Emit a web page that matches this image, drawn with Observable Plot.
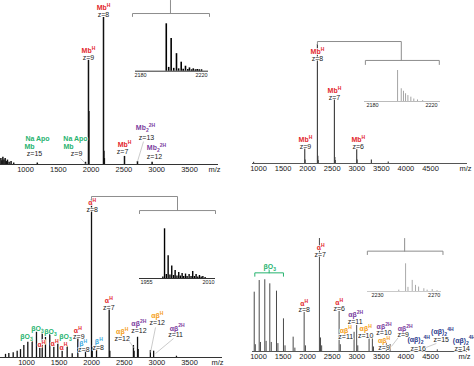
<!DOCTYPE html>
<html><head><meta charset="utf-8">
<script src="https://cdn.jsdelivr.net/npm/d3@7"></script>
<script src="https://cdn.jsdelivr.net/npm/@observablehq/plot@0.6"></script>
<style>
body{margin:0;background:#fff;}
#wrap{position:relative;width:474px;height:366px;overflow:hidden;background:#fff;}
#wrap svg{position:absolute;overflow:visible;}
</style></head><body><div id="wrap"></div>
<script>
// ================= DATA =================
const ticksAC = [1000,1500,2000,2500,3000,3500];
const ticksBD = [1000,1500,2000,2500,3000,3500,4000,4500];
const ticksInsetA = [2180,2220];
const ticksInsetB = [2180,2220];
const ticksInsetC = [1955,2010];
const ticksInsetD = [2230,2270];
const axisTitle = "m/z";
const axisTitlePos = {A: 3881, B: 5212, C: 3929, D: 5192};

// peaks: [m/z, relative intensity]
const peaksA = [[625,4],[640,2.5],[655,5],[672,3],[690,4],[708,2],[725,3],[750,1.5],[780,2],[820,1],[1180,1],[1915,1.5],[1960,71],[1966,36],[2189,100],[2195,9],[2202,4],[2509,5.5],[2707,2],[2930,1.5]];
const peaksB = [[900,1],[1941,12.6],[1948,3],[2199,100],[2207,6],[2215,2.5],[2545,55],[2553,5],[2562,2.5],[2998,12],[3006,3],[3297,3],[3640,1.2]];
const peaksC = [[678,2],[729,2.5],[796,3],[857,4],[908,5],[959,7.6],[1020,9.7],[1087,12.8],[1153,16],[1204,6],[1241,18],[1291,12.8],[1357,16],[1419,9.7],[1480,11.4],[1547,5.5],[1624,7.6],[1701,2.3],[1787,12.8],[1905,5],[1997,100],[2008,6],[2074,5.7],[2268,32.5],[2278,4],[2640,7.6],[2650,4],[2703,12.8],[2713,5],[2900,4.4],[2950,4],[3300,0.8]];
const peaksD = [[913,52.5],[935,6],[1014,62.8],[1040,8],[1128,63.5],[1155,9],[1230,59.9],[1260,8],[1366,53.4],[1395,7],[1508,28.9],[1540,5],[1705,12.7],[1740,3],[1929,34.5],[1955,5],[2240,100],[2262,12],[2285,5],[2640,35.4],[2665,6],[2945,17],[2998,23],[3020,5],[3250,12.7],[3317,16],[3340,4],[3602,8.2],[3677,6.2],[4165,2],[4638,1.5],[5106,1]];

const insetPeaksA = [[2196.9,1],[2198.5,0.08],[2200.1,0.69],[2201.8,0.06],[2203.6,0.37],[2205,0.05],[2206.7,0.19],[2208,0.04],[2209.5,0.105],[2211,0.035],[2212.1,0.07],[2213.5,0.03],[2214.6,0.05],[2216,0.03],[2217.2,0.036],[2218.5,0.03],[2220,0.03]];
const insetPeaksB = [[2197,1],[2199.5,0.41],[2201,0.33],[2202.4,0.25],[2204,0.19],[2206,0.14],[2208,0.08],[2210.5,0.05],[2214,0.03]];
const insetPeaksC = [[1969.5,0.03],[1971,1],[1972.6,0.08],[1974.2,0.46],[1975.8,0.07],[1977.4,0.25],[1979,0.06],[1980.4,0.16],[1982,0.05],[1983.6,0.12],[1985,0.05],[1986.6,0.1],[1988,0.04],[1989.6,0.09],[1991,0.04],[1992.8,0.08],[1994.5,0.04],[1996,0.14],[1997.5,0.04],[1999,0.08],[2000.5,0.03],[2002,0.06],[2003.5,0.03],[2005,0.04],[2007,0.02]];
const insetPeaksD = [[2245,0.05],[2249.8,1],[2251.5,0.15],[2254.5,0.4],[2256.8,0.22],[2259,0.16],[2262.7,0.1],[2265,0.05],[2268.6,0.07],[2272,0.03]];

// labels: [m/z, intensity, text, colour key]
const labelsA = [[2189,106.8,"Mb^{H}","r"],[2189,102,"z=8","k"],[1960,77.5,"Mb^{H}","r"],[1960,72.8,"z=9","k"],
  [1183,17.7,"Na Apo","g"],[1061,12.2,"Mb","g"],[1137,7.5,"z=15","k"],
  [1762,17.7,"Na Apo","g"],[1656,12.2,"Mb","g"],[1778,7.5,"z=9","k"],
  [2509,13.6,"Mb^{H}","r"],[2479,8.8,"z=7","k"],
  [2829,24.8,"Mb_{2}^{2H}","p"],[2845,18.5,"z=13","k"],[2997,11.2,"Mb_{2}^{2H}","p"],[2967,5,"z=12","k"]];
const labelsB = [[2199,94.1,"Mb^{H}","r"],[2199,88.2,"z=8","k"],[2545,61.3,"Mb^{H}","r"],[2545,55.4,"z=7","k"],
  [1955,20.2,"Mb^{H}","r"],[1955,14.3,"z=9","k"],[3030,20.2,"Mb^{H}","r"],[3030,14.3,"z=6","k"]];
const labelsC = [[2008,97.8,"α^{H}","r"],[2008,93.7,"z=8","k"],[2262,35.8,"α^{H}","r"],[2262,31.6,"z=7","k"],
  [1787,17.1,"α^{H}","r"],[1802,13,"z=9","k"],[1870,8.7,"β^{H}","b"],[1879,5,"z=8","k"],
  [2109,10.1,"β^{H}","b"],[2100,6.3,"z=8","k"],[2468,16.2,"αβ^{H}","o"],[2468,12.1,"z=12","k"],
  [2723,21.2,"αβ^{2H}","p"],[2723,17.1,"z=12","k"],[3005,26.3,"αβ^{H}","o"],[3005,22.2,"z=12","k"],
  [3312,18.4,"αβ^{2H}","p"],[3286,14.2,"z=11","k"],
  [1000,13.3,"βO_{3}","g"],[1169,18.4,"βO_{3}","g"],[1368,16.5,"βO_{3}","g"],[1598,12.9,"βO_{3}","g"],
  [1230,8.2,"α^{H}","r"],[1430,8.8,"α^{H}","r"],[1567,6.4,"α^{H}","r"]];
const labelsD = [[1230,74.6,"βO_{3}","g"],[1929,42.2,"α^{H}","r"],[1929,37,"z=8","k"],[2267,91.4,"α^{H}","r"],[2254,85.6,"z=7","k"],
  [2641,43.3,"α^{H}","r"],[2641,37.6,"z=6","k"],[2978,32.2,"αβ^{2H}","p"],[2966,26.7,"z=11","k"],
  [2775,18.8,"αβ^{H}","o"],[2775,13.1,"z=11","k"],[3181,19.9,"αβ^{H}","o"],[3181,14.2,"z=10","k"],
  [3555,22.1,"αβ^{2H}","p"],[3555,16.4,"z=10","k"],[3555,9.3,"αβ^{H}","o"],[3555,3.5,"z=9","k"],
  [3985,20.2,"αβ^{2H}","p"],[3945,14.6,"z=9","k"],[4258,10.4,"(αβ)_{2}^{4H}","n"],[4250,2.6,"z=16","k"],
  [4741,17.6,"(αβ)_{2}^{4H}","n"],[4720,10.2,"z=15","k"],[5182,9.8,"(αβ)_{2}^{4H}","n"],[5147,2.2,"z=14","k"]];

// leader lines: [m/z1, y1, m/z2, y2]
const leadersA = [[1838,4.1,1915,0.7],[2799,15.6,2707,2]];
const leadersC = [[2565,10.8,2657,5.7],[2979,19,2902,3.2],[3255,12,2979,2.5]];
const leadersD = [[3846,12.4,3704,4.4],[4619,7.1,4253,0.9]];

// zoom brackets: polylines of [m/z, intensity]
const bracketsA = [[[3210,111.6],[3210,102.7]],[[2631,100.7],[2631,102.7],[3805,102.7],[3805,100.7]]];
const bracketsB = [[[2199,100],[2199,102.5],[3906,102.5],[3906,86.6]],[[3175,83.2],[3175,86.6],[4679,86.6],[4679,83.2]]];
const bracketsC = [[[1997,100],[1997,101.9],[3316,101.9],[3316,93]],[[2733,91.1],[2733,93],[3899,93],[3899,91.1]]];
const bracketsD = [[[3974,100],[3974,88.8]],[[3215,85.8],[3215,88.8],[4754,88.8],[4754,85.8]]];
const bracketsDGreen = [[[925,66.6],[925,69.6],[1508,69.6],[1508,66.6]],[[1217,69.6],[1217,72.8]]];

// ================= STYLE =================
const COLORS = {r:"#e3262b", g:"#27b36f", p:"#7b3d9e", o:"#f5a020", b:"#3eaadf", n:"#2d3d8e", k:"#1a1a1a"};
const FONT = "'Liberation Sans', Arial, sans-serif";
const wrap = document.getElementById("wrap");

function domainFrom(cal, frame) {
  const [[v0,p0],[v1,p1]] = cal;
  const s = (p1-p0)/(v1-v0);
  return [v0 - (p0-frame[0])/s, v0 + (frame[1]-p0)/s];
}

function richText(svg) {
  svg.querySelectorAll("text").forEach(t => {
    const s = t.textContent;
    if (!/[\^_]\{/.test(s)) return;
    while (t.firstChild) t.removeChild(t.firstChild);
    const re = /([\^_])\{([^}]*)\}|([^\^_]+)/g;
    let m, shift = 0;
    while ((m = re.exec(s))) {
      const ts = document.createElementNS("http://www.w3.org/2000/svg","tspan");
      let target, txt, size = null;
      if (m[3] !== undefined) { txt = m[3]; target = 0; }
      else { txt = m[2]; target = m[1] === "^" ? -3.2 : 2; size = "5px"; }
      ts.setAttribute("dy", target - shift); shift = target;
      if (size) ts.setAttribute("font-size", size);
      ts.textContent = txt;
      t.appendChild(ts);
    }
  });
}

function draw(cfg) {
  const {box, cal, frame, base, top, ymax, ticks, title, peaks, color, sw, axis, fs,
         labels = [], leaders = [], brackets = [], greenBrackets = []} = cfg;
  const [left, topPx, width, height] = box;
  const domain = domainFrom(cal, frame);
  const tickVals = title != null ? [...ticks, title] : ticks;
  const marks = [
    Plot.ruleY([0], {stroke: axis, strokeWidth: cfg.axisW || 1}),
    Plot.ruleX(peaks, {x: d => d[0], y1: 0, y2: d => d[1], stroke: color, strokeWidth: sw}),
  ];
  brackets.forEach(b => marks.push(Plot.line(b, {x: d => d[0], y: d => d[1], stroke: "#8d8d8d", strokeWidth: 1})));
  greenBrackets.forEach(b => marks.push(Plot.line(b, {x: d => d[0], y: d => d[1], stroke: COLORS.g, strokeWidth: 1})));
  if (leaders.length) marks.push(Plot.link(leaders, {x1: d => d[0], y1: d => d[1], x2: d => d[2], y2: d => d[3], stroke: "#b5b5b5", strokeWidth: 0.7}));
  const names = labels.filter(d => d[3] !== "k"), zs = labels.filter(d => d[3] === "k");
  if (names.length) marks.push(Plot.text(names, {x: d => d[0], y: d => d[1], text: d => d[2], fill: d => COLORS[d[3]],
      fontSize: 7, fontWeight: "bold", stroke: "white", strokeWidth: 1.5, lineAnchor: "middle"}));
  if (zs.length) marks.push(Plot.text(zs, {x: d => d[0], y: d => d[1], text: d => d[2], fill: COLORS.k,
      fontSize: 7, stroke: "white", strokeWidth: 1.5, lineAnchor: "middle"}));
  const svg = Plot.plot({
    width, height,
    marginLeft: frame[0], marginRight: width - frame[1], marginTop: top, marginBottom: height - base,
    x: {domain, ticks: tickVals, tickSize: 0, tickPadding: 2, label: null,
        tickFormat: d => d === title ? axisTitle : String(d)},
    y: {domain: [0, ymax], axis: null},
    style: {fontSize: fs + "px", fontFamily: FONT, color: "#222", background: "transparent", overflow: "visible"},
    marks
  });
  svg.style.left = left + "px";
  svg.style.top = topPx + "px";
  svg.style.maxWidth = "none";
  richText(svg);
  wrap.appendChild(svg);
}

// main panels
draw({box:[0,0,237,185], cal:[[1000,25],[3500,189]], frame:[0,218], base:164, top:17, ymax:100, ticks:ticksAC, title:axisTitlePos.A,
  peaks:peaksA, color:"#111", sw:1.5, axis:"#333", fs:7.5, labels:labelsA, leaders:leadersA, brackets:bracketsA});
draw({box:[237,0,237,185], cal:[[1000,21],[4500,193]], frame:[15,230], base:163, top:44, ymax:100, ticks:ticksBD, title:axisTitlePos.B,
  peaks:peaksB, color:"#444", sw:1.2, axis:"#555", fs:7.5, labels:labelsB, brackets:bracketsB});
draw({box:[0,185,237,181], cal:[[1000,26],[3500,189]], frame:[0,222], base:172, top:14, ymax:100, ticks:ticksAC, title:axisTitlePos.C,
  peaks:peaksC, color:"#111", sw:1.3, axis:"#333", fs:7.5, labels:labelsC, leaders:leadersC, brackets:bracketsC});
draw({box:[237,185,237,181], cal:[[1000,21],[4500,193]], frame:[15,230], base:166, top:53, ymax:100, ticks:ticksBD, title:axisTitlePos.D,
  peaks:peaksD, color:"#4a4a4a", sw:1, axis:"#555", fs:7.5, labels:labelsD, leaders:leadersD, brackets:bracketsD, greenBrackets:bracketsDGreen});

// insets
draw({box:[128,18,90,64], cal:[[2180,12],[2220,73]], frame:[7,80], base:52.7, top:5.3, ymax:1, ticks:ticksInsetA,
  peaks:insetPeaksA, color:"#000", sw:1.6, axis:"#333", fs:5.5});
draw({box:[355,62,95,50], cal:[[2180,17],[2220,76]], frame:[9,85], base:39, top:8, ymax:1, ticks:ticksInsetB,
  peaks:insetPeaksB, color:"#9a9a9a", sw:0.9, axis:"#aaa", axisW:0.8, fs:5.5});
draw({box:[132,220,90,68], cal:[[1955,14],[2010,76]], frame:[7,83], base:58, top:8.3, ymax:1, ticks:ticksInsetC,
  peaks:insetPeaksC, color:"#000", sw:1.4, axis:"#333", fs:5.5});
draw({box:[360,255,90,50], cal:[[2230,17],[2270,73.7]], frame:[7,81], base:36, top:8.3, ymax:1, ticks:ticksInsetD,
  peaks:insetPeaksD, color:"#a0a0a0", sw:0.9, axis:"#bbb", axisW:0.8, fs:5.5});
</script></body></html>
